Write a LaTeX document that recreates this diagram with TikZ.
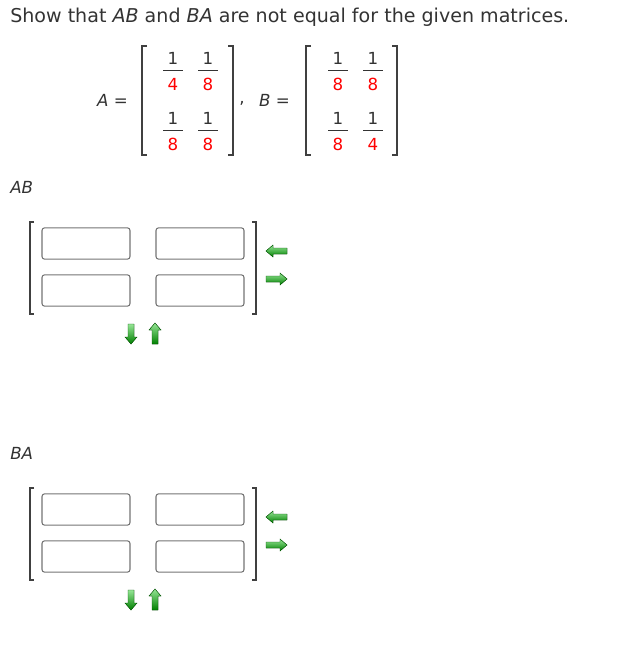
\documentclass[tikz,border=0pt]{standalone}
\usepackage{fontspec}
\setmainfont{DejaVu Sans}
\begin{document}
\begin{tikzpicture}[x=0.75pt,y=-0.75pt,
  txt/.style={inner sep=0pt,text=black!80,font=\fontsize{12.5}{14}\selectfont},
  num/.style={inner sep=0pt,font=\fontsize{12.5}{14}\selectfont},
  brk/.style={draw=black!75,line width=1.2pt},
  ibox/.style={draw=black!55,line width=0.8pt,rounded corners=2pt,minimum width=66pt,minimum height=23.5pt,inner sep=0pt},
  garrow/.style={top color=green!35!white!90!black,bottom color=green!50!black,draw=green!35!black,line width=0.3pt}]
\useasboundingbox (0,0) rectangle (628,645);
\node[txt,anchor=west,font=\fontsize{14.3}{16}\selectfont] (title) at (10,17) {Show that \textit{AB} and \textit{BA} are not equal for the given matrices.};
% matrices
\node[txt,anchor=east] (Aeq) at (128,100) {\textit{A} =};
\draw[brk] (147,46) -- (142,46) -- (142,155) -- (147,155);
\draw[brk] (228,46) -- (233,46) -- (233,155) -- (228,155);
\node[txt] (comma) at (242,103) {,};
\node[txt,anchor=east] (Beq) at (290,100) {\textit{B} =};
\draw[brk] (311,46) -- (306,46) -- (306,155) -- (311,155);
\draw[brk] (392,46) -- (397,46) -- (397,155) -- (392,155);
\foreach \cx/\da/\db [count=\i] in {173/4/8,208/8/8,338/8/8,373/8/4}{
  \node[num,text=black!80] (n1\i) at (\cx,58) {1};
  \draw[black!80,line width=0.7pt] (\cx-10,70) -- (\cx+10,70);
  \node[num,text=red] (d1\i) at (\cx,84) {\da};
  \node[num,text=black!80] (n2\i) at (\cx,118) {1};
  \draw[black!80,line width=0.7pt] (\cx-10,130) -- (\cx+10,130);
  \node[num,text=red] (d2\i) at (\cx,144) {\db};
}
% answer blocks
\foreach \lab/\oy in {AB/0,BA/266}{
  \node[txt,anchor=west] (lab\lab) at (10,187+\oy) {\textit{\lab}};
  \draw[brk,line width=0.8pt] (34,222+\oy) -- (30,222+\oy) -- (30,314+\oy) -- (34,314+\oy);
  \draw[brk,line width=0.8pt] (252,222+\oy) -- (256,222+\oy) -- (256,314+\oy) -- (252,314+\oy);
  \node[ibox] (b11\lab) at (86,243.5+\oy) {};
  \node[ibox] (b12\lab) at (200,243.5+\oy) {};
  \node[ibox] (b21\lab) at (86,290.5+\oy) {};
  \node[ibox] (b22\lab) at (200,290.5+\oy) {};
  \filldraw[garrow] (266,251+\oy) -- (273,245+\oy) -- (273,248+\oy) -- (287,248+\oy) -- (287,254+\oy) -- (273,254+\oy) -- (273,257+\oy) -- cycle;
  \filldraw[garrow] (287,279+\oy) -- (280,273+\oy) -- (280,276+\oy) -- (266,276+\oy) -- (266,282+\oy) -- (280,282+\oy) -- (280,285+\oy) -- cycle;
  \filldraw[garrow] (131,344+\oy) -- (125,337+\oy) -- (128,337+\oy) -- (128,324+\oy) -- (134,324+\oy) -- (134,337+\oy) -- (137,337+\oy) -- cycle;
  \filldraw[garrow] (155,323+\oy) -- (149,330+\oy) -- (152,330+\oy) -- (152,344+\oy) -- (158,344+\oy) -- (158,330+\oy) -- (161,330+\oy) -- cycle;
}
\end{tikzpicture}
\end{document}
